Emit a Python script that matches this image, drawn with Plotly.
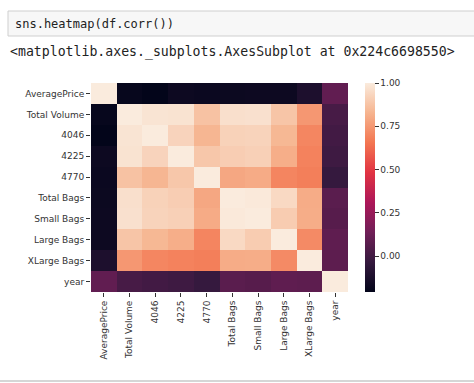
import plotly.graph_objects as go

labels = ["AveragePrice", "Total Volume", "4046", "4225", "4770",
          "Total Bags", "Small Bags", "Large Bags", "XLarge Bags", "year"]

corr = [
    [1.000, -0.193, -0.208, -0.173, -0.179, -0.177, -0.175, -0.173, -0.118, 0.093],
    [-0.193, 1.000, 0.978, 0.974, 0.872, 0.963, 0.967, 0.881, 0.747, 0.017],
    [-0.208, 0.978, 1.000, 0.926, 0.833, 0.920, 0.925, 0.839, 0.699, 0.003],
    [-0.173, 0.974, 0.926, 1.000, 0.887, 0.906, 0.916, 0.810, 0.688, -0.010],
    [-0.179, 0.872, 0.833, 0.887, 1.000, 0.792, 0.802, 0.698, 0.679, -0.037],
    [-0.177, 0.963, 0.920, 0.906, 0.792, 1.000, 0.994, 0.943, 0.804, 0.072],
    [-0.175, 0.967, 0.925, 0.916, 0.802, 0.994, 1.000, 0.903, 0.807, 0.064],
    [-0.173, 0.881, 0.839, 0.810, 0.698, 0.943, 0.903, 1.000, 0.710, 0.088],
    [-0.118, 0.747, 0.699, 0.688, 0.679, 0.804, 0.807, 0.710, 1.000, 0.081],
    [0.093, 0.017, 0.003, -0.010, -0.037, 0.072, 0.064, 0.088, 0.081, 1.000],
]

colorbar_ticks = [0.0, 0.25, 0.5, 0.75, 1.0]
colorbar_ticktext = ["0.00", "0.25", "0.50", "0.75", "1.00"]

code_text = "sns.heatmap(df.corr())"
out_text = "&lt;matplotlib.axes._subplots.AxesSubplot at 0x224c6698550&gt;"

rocket = [
    [0.0, "#03051a"],
    [1/7, "#35193e"],
    [2/7, "#701f57"],
    [3/7, "#ad1759"],
    [4/7, "#e13342"],
    [5/7, "#f37651"],
    [6/7, "#f6b48f"],
    [1.0, "#faebdd"],
]

W, H = 474, 383
L, R, T, B = 91, 348, 83, 292
pw, ph = R - L, B - T

def px(x):
    return (x - L) / pw

def py(y):
    return (B - y) / ph

tick_font = dict(family="DejaVu Sans", size=9, color="#333")

fig = go.Figure(go.Heatmap(
    z=corr, x=labels, y=labels,
    colorscale=rocket, zmin=-0.208, zmax=1.0,
    xgap=0, ygap=0,
    colorbar=dict(
        thickness=10, thicknessmode="pixels",
        len=ph, lenmode="pixels",
        x=px(365), xanchor="left", xpad=0,
        y=0.5, yanchor="middle", ypad=0,
        outlinewidth=0,
        tickvals=colorbar_ticks, ticktext=colorbar_ticktext,
        ticks="outside", ticklen=4, tickcolor="#333",
        tickfont=tick_font,
    ),
))

fig.update_layout(
    width=W, height=H,
    margin=dict(l=L, r=W - R, t=T, b=H - B, pad=0, autoexpand=False),
    paper_bgcolor="white", plot_bgcolor="white",
    xaxis=dict(showgrid=False, zeroline=False, tickangle=-90, ticks="outside",
               ticklen=4, tickcolor="#333", tickfont=tick_font),
    yaxis=dict(showgrid=False, zeroline=False, autorange="reversed", ticks="outside",
               ticklen=4, tickcolor="#333", tickfont=tick_font),
    shapes=[
        dict(type="rect", xref="paper", yref="paper",
             x0=px(8), x1=px(478), y0=py(36), y1=py(11),
             fillcolor="#f7f7f7", line=dict(color="#cfcfcf", width=1), layer="below"),
        dict(type="line", xref="paper", yref="paper",
             x0=px(0), x1=px(474), y0=py(381), y1=py(381),
             line=dict(color="#c8c8c8", width=1.5)),
    ],
    annotations=[
        dict(text=code_text, xref="paper", yref="paper", x=px(13), y=py(24),
             xanchor="left", yanchor="middle", showarrow=False,
             font=dict(family="DejaVu Sans Mono", size=12, color="#222")),
        dict(text=out_text, xref="paper", yref="paper", x=px(8), y=py(52),
             xanchor="left", yanchor="middle", showarrow=False,
             font=dict(family="DejaVu Sans Mono", size=13.2, color="#222")),
    ],
)

fig.write_html("out.html", config={"displayModeBar": False},
               post_script="document.body.style.margin='0';document.body.style.overflow='hidden';")
